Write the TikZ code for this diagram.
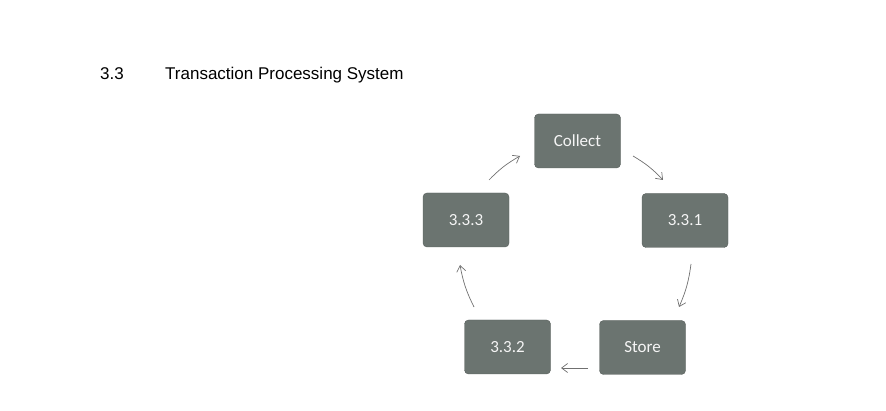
\documentclass[tikz,border=0pt]{standalone}
\usepackage{fontspec}
\setmainfont{Liberation Sans}
\newfontfamily\boxfont{Carlito}
\usetikzlibrary{arrows.meta}
\definecolor{boxgray}{HTML}{6B7470}
\definecolor{arrgray}{HTML}{707070}
\tikzset{
  stepbox/.style={draw=boxgray!80!black, fill=boxgray, rounded corners=4pt, minimum width=86pt, minimum height=54pt, text=white!92!gray, font=\boxfont\fontsize{17}{20}\selectfont, inner sep=0pt},
  conn/.style={draw=arrgray, line width=0.7pt, -{Straight Barb[length=6pt,width=9pt]}},
  title/.style={font=\fontsize{17}{20}\selectfont, anchor=base west, inner sep=0pt}
}
\begin{document}
\begin{tikzpicture}[x=1pt,y=-1pt]
\useasboundingbox (0,0) rectangle (886,411);
\node[title] (num) at (100,80) {3.3};
\node[title] (ttl) at (165,80) {Transaction Processing System};
\node[stepbox] (collect) at (577.5,141) {Collect};
\node[stepbox] (s331) at (685,220.5) {3.3.1};
\node[stepbox] (s333) at (466,220) {3.3.3};
\node[stepbox] (s332) at (507.5,347) {3.3.2};
\node[stepbox] (store) at (642.5,347.5) {Store};
\coordinate (a1) at (633,156); \coordinate (b1) at (663,180);
\coordinate (a2) at (691,264); \coordinate (b2) at (679,307);
\coordinate (a3) at (588,368); \coordinate (b3) at (561,368);
\coordinate (a4) at (474,307); \coordinate (b4) at (460,265);
\coordinate (a5) at (489,180); \coordinate (b5) at (520,156);
\draw[conn] (a1) to[bend left=8] (b1);
\draw[conn] (a2) to[bend left=8] (b2);
\draw[conn] (a3) -- (b3);
\draw[conn] (a4) to[bend left=8] (b4);
\draw[conn] (a5) to[bend left=8] (b5);
\end{tikzpicture}
\end{document}
